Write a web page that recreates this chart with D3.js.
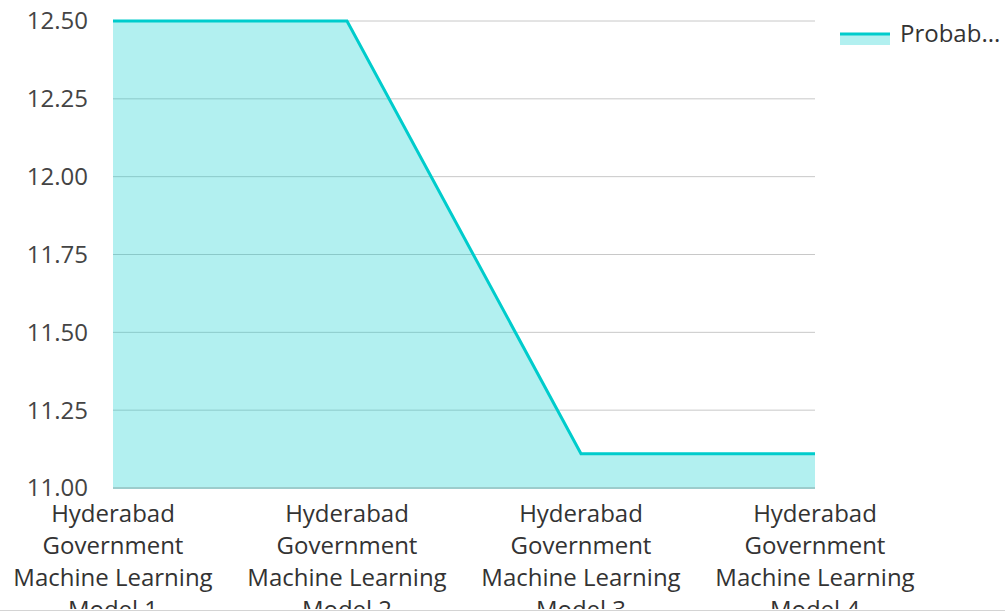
<!DOCTYPE html>
<html><head><meta charset="utf-8">
<script src="https://cdn.jsdelivr.net/npm/d3@7"></script>
<style>html,body{margin:0;padding:0;background:#fff;overflow:hidden}</style>
</head><body>
<svg id="c" width="1005" height="615"></svg>
<script>
const categories = ["Hyderabad Government Machine Learning Model 1","Hyderabad Government Machine Learning Model 2","Hyderabad Government Machine Learning Model 3","Hyderabad Government Machine Learning Model 4"];
const labelLines = [["Hyderabad","Government","Machine Learning","Model 1"],["Hyderabad","Government","Machine Learning","Model 2"],["Hyderabad","Government","Machine Learning","Model 3"],["Hyderabad","Government","Machine Learning","Model 4"]];
const values = [12.5, 12.5, 11.11, 11.11];
const yTicks = [11.00, 11.25, 11.50, 11.75, 12.00, 12.25, 12.50];
const seriesName = "Probab...";

const svg = d3.select("#c");
const font = "'Open Sans','Noto Sans',sans-serif";
const fs = 24;
const x = d3.scalePoint().domain(categories).range([113, 815]);
const y = d3.scaleLinear().domain([11, 12.5]).range([488, 21]);

svg.append("g").selectAll("line").data(yTicks.filter(t=>t>11)).join("line")
  .attr("x1",113).attr("x2",815).attr("y1",d=>y(d)).attr("y2",d=>y(d))
  .attr("stroke","#c8c8c8").attr("stroke-width",1);

const pts = categories.map((c,i)=>({c,v:values[i]}));
svg.append("path").datum(pts)
  .attr("d", d3.area().x(d=>x(d.c)).y0(y(11)).y1(d=>y(d.v)))
  .attr("fill","rgba(0,204,204,0.3)");

svg.append("line").attr("x1",113).attr("x2",815).attr("y1",y(11)).attr("y2",y(11))
  .attr("stroke","#9ccccc").attr("stroke-width",2);

svg.append("path").datum(pts)
  .attr("d", d3.line().x(d=>x(d.c)).y(d=>y(d.v)))
  .attr("fill","none").attr("stroke","#00cccc").attr("stroke-width",3);

svg.append("g").selectAll("text").data(yTicks).join("text")
  .attr("x",88).attr("y",d=>y(d)).attr("dy","0.35em").attr("text-anchor","end")
  .attr("font-family",font).attr("font-size",fs).attr("fill","#444")
  .text(d=>d3.format(".2f")(d));

const xl = svg.append("g").selectAll("text").data(categories).join("text")
  .attr("x",d=>x(d)).attr("text-anchor","middle")
  .attr("font-family",font).attr("font-size",fs).attr("fill","#333");
xl.each(function(d,i){
  d3.select(this).selectAll("tspan").data(labelLines[i]).join("tspan")
    .attr("x",x(d)).attr("y",(l,j)=>522+j*32).text(l=>l);
});

svg.append("rect").attr("x",0).attr("y",609).attr("width",1005).attr("height",6).attr("fill","#fff");
svg.append("line").attr("x1",0).attr("x2",1005).attr("y1",610.5).attr("y2",610.5).attr("stroke","#d4d4d4").attr("stroke-width",1);

svg.append("rect").attr("x",840).attr("y",33).attr("width",50).attr("height",12).attr("fill","rgba(0,204,204,0.3)");
svg.append("line").attr("x1",840).attr("x2",890).attr("y1",34).attr("y2",34).attr("stroke","#00cccc").attr("stroke-width",3);
svg.append("text").attr("x",900).attr("y",34).attr("dy","0.35em")
  .attr("font-family",font).attr("font-size",fs).attr("fill","#333").text(seriesName);
</script>
</body></html>
